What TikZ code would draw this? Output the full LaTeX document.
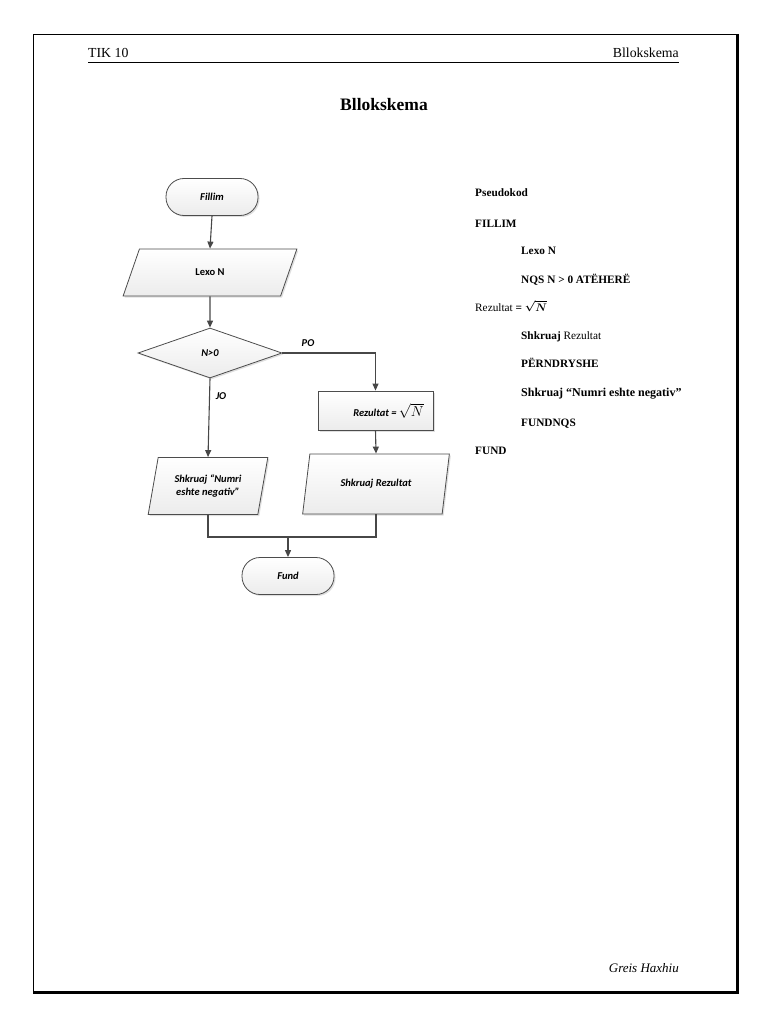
\documentclass[tikz,border=0pt]{standalone}
\usepackage{fontspec}
\setmainfont{Liberation Serif}
\newfontfamily\flowfont{Carlito}
\usetikzlibrary{shapes.geometric,arrows.meta,shadows}
\begin{document}
\begin{tikzpicture}[x=1pt,y=-1pt,
  shapebase/.style={draw=gray!60!black, line width=0.8pt, top color=white, bottom color=gray!15,
    drop shadow={opacity=0.25,shadow xshift=1.5pt,shadow yshift=-1.5pt},
    font=\flowfont\fontsize{10.5}{12.5}\selectfont\bfseries\itshape, inner sep=0pt, align=center},
  term/.style={shapebase, rectangle, rounded corners=18pt, minimum width=92pt, minimum height=37pt},
  io/.style={shapebase, trapezium, trapezium stretches=true},
  conn/.style={draw=black!72, line width=1.1pt},
  arr/.style={conn, -{Triangle[length=7pt,width=6pt]}},
  flowlbl/.style={font=\flowfont\fontsize{10.5}{12.5}\selectfont\bfseries\itshape, inner sep=0pt},
  hdr/.style={font=\fontsize{13.8}{16}\selectfont, inner sep=0pt},
  pseudo/.style={font=\fontsize{11.3}{13}\selectfont, inner sep=0pt, anchor=base west}
]
\useasboundingbox (0,0) rectangle (768,1024);
% page frame
\draw[line width=0.9pt] (33,34) rectangle (736,991);
\draw[line width=3pt] (737,34) -- (737,992) -- (33,992);
% header
\node[hdr, anchor=base west] (hl) at (88,58) {TIK 10};
\node[hdr, anchor=base east] (hr) at (679,58) {Bllokskema};
\draw[line width=0.9pt] (hl.west |- 0,62) -- (hr.east |- 0,62);
\node[font=\fontsize{17.5}{20}\selectfont\bfseries, inner sep=0pt, anchor=base] (title) at (384,111) {Bllokskema};

% flowchart
\node[term] (fillim) at (212,197) {Fillim};
\node[io, trapezium left angle=64, trapezium right angle=116, minimum width=174pt, minimum height=47pt,
  font=\flowfont\fontsize{10.5}{12.5}\selectfont\bfseries] (lexo) at (210,272.5) {Lexo N};
\node[shapebase, diamond, minimum width=144pt, minimum height=50pt] (dia) at (210,353) {N>0};
\node[shapebase, rectangle, minimum width=115pt, minimum height=39pt] (rez) at (375.5,410.5)
  {\hspace*{26pt}Rezultat = {\fontsize{14}{14}\selectfont$\sqrt{N}$}};
\node[io, trapezium left angle=67, trapezium right angle=113, minimum width=148pt, minimum height=60pt] (outR) at (376,484) {Shkruaj Rezultat};
\node[io, trapezium left angle=73, trapezium right angle=107, minimum width=120pt, minimum height=57pt] (outL) at (208,486) {Shkruaj “Numri\\eshte negativ”};
\node[term] (fund) at (288,576) {Fund};
\coordinate (merge) at (288,537);

\draw[arr] (fillim.south) -- (lexo.north);
\draw[arr] (lexo.south) -- (dia.north);
\draw[arr] (dia.east) -| (rez.north);
\draw[arr] (rez.south) -- (outR.north);
\draw[arr] (dia.south) -- (outL.north);
\draw[conn] (outL.south) |- (merge) -| (outR.south);
\draw[arr] (merge) -- (fund.north);
\node[flowlbl] (po) at (308,343) {PO};
\node[flowlbl] (jo) at (221,396) {JO};

% pseudocode
\node[pseudo] (p1) at (475,197) {\textbf{Pseudokod}};
\node[pseudo] (p2) at (475,227) {\textbf{FILLIM}};
\node[pseudo] (p3) at (521,254) {\textbf{Lexo N}};
\node[pseudo] (p4) at (521,283) {\textbf{NQS N > 0 ATËHERË}};
\node[pseudo] (p5) at (475,311) {Rezultat \textbf{=} {\boldmath$\sqrt{N}$}};
\node[pseudo] (p6) at (521,339) {\textbf{Shkruaj} Rezultat};
\node[pseudo] (p7) at (521,367) {\textbf{PËRNDRYSHE}};
\node[pseudo, font=\fontsize{12}{14}\selectfont] (p8) at (521,396) {\textbf{Shkruaj “Numri eshte negativ”}};
\node[pseudo] (p9) at (521,426) {\textbf{FUNDNQS}};
\node[pseudo] (p10) at (475,454) {\textbf{FUND}};

% signature
\node[font=\fontsize{13}{15}\selectfont\itshape, inner sep=0pt, anchor=base east] (sig) at (679,972) {Greis Haxhiu};
\end{tikzpicture}
\end{document}
